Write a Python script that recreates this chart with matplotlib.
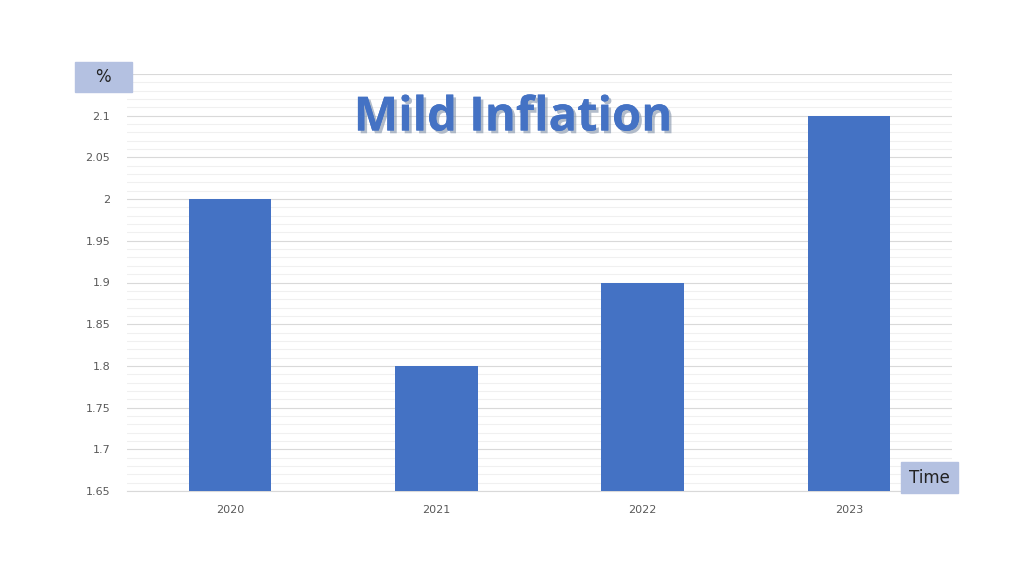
import matplotlib.pyplot as plt
import matplotlib.patheffects as pe
import numpy as np

years = ['2020', '2021', '2022', '2023']
inflation = [2.0, 1.8, 1.9, 2.1]

fig = plt.figure(figsize=(10.24, 5.76), dpi=100)
ax = fig.add_axes([127/1024, 1 - 491/576, 825/1024, (491 - 74)/576])

x = np.arange(len(years))
ax.bar(x, inflation, width=0.4, color='#4472c4', zorder=3)
ax.set_xlim(-0.5, 3.5)
ax.set_ylim(1.65, 2.15)
ax.set_xticks(x)
ax.set_xticklabels(years)
ax.set_yticks(np.arange(1.65, 2.151, 0.05))
ax.set_yticklabels(['1.65', '1.7', '1.75', '1.8', '1.85', '1.9', '1.95', '2', '2.05', '2.1', ''])
ax.set_yticks(np.arange(1.65, 2.151, 0.01), minor=True)
ax.grid(axis='y', which='major', color='#d9d9d9', linewidth=0.8, zorder=0)
ax.grid(axis='y', which='minor', color='#f0f0f0', linewidth=0.8, zorder=0)
ax.tick_params(axis='both', which='both', length=0, labelsize=8, labelcolor='#595959')
ax.tick_params(axis='x', pad=10)
ax.tick_params(axis='y', pad=12)
for s in ['top', 'right', 'left']:
    ax.spines[s].set_visible(False)
ax.spines['bottom'].set_color('#d9d9d9')

fig.text(513/1024, 1 - 118/576, 'Mild Inflation', ha='center', va='center',
         fontsize=34, fontweight='bold', family='Open Sans', color='#4472c4',
         path_effects=[pe.withSimplePatchShadow(offset=(2, -2), shadow_rgbFace='#8090a8', alpha=0.6), pe.Normal()])

box = dict(boxstyle='square,pad=0', facecolor='#b4c1e1', edgecolor='none')
fig.patches.append(plt.Rectangle((75/1024, 1 - 92/576), 57/1024, 30/576, transform=fig.transFigure, color='#b4c1e1'))
fig.text(103/1024, 1 - 77/576, '%', ha='center', va='center', fontsize=12, color='#222222')
fig.patches.append(plt.Rectangle((901/1024, 1 - 493/576), 57/1024, 31/576, transform=fig.transFigure, color='#b4c1e1'))
fig.text(929/1024, 1 - 478/576, 'Time', ha='center', va='center', fontsize=12, color='#222222')

fig.savefig('out.png', dpi=100)
